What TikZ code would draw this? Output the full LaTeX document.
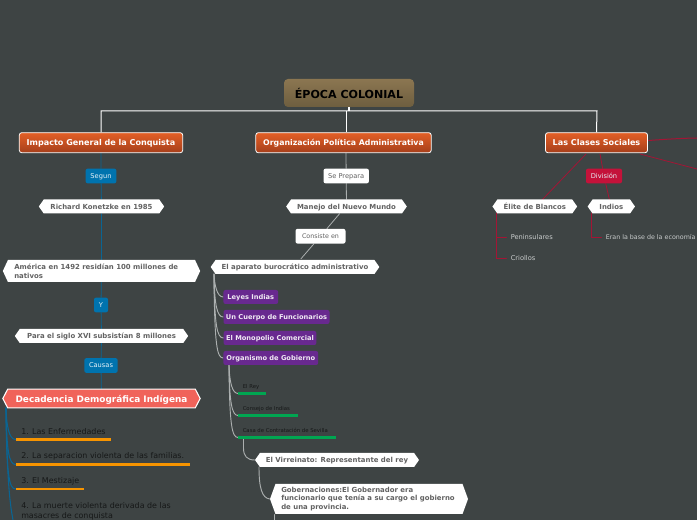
\documentclass[tikz,border=0pt]{standalone}
\usepackage{fontspec}
\setmainfont{DejaVu Sans}
\usetikzlibrary{shapes.symbols,backgrounds,calc}
\definecolor{bgc}{HTML}{3E4444}
\definecolor{hextxt}{HTML}{626262}
\definecolor{bluel}{HTML}{0A6593}
\definecolor{blueb}{HTML}{0073AE}
\definecolor{redl}{HTML}{A31535}
\definecolor{redb}{HTML}{C4123A}
\definecolor{purp}{HTML}{68298F}
\definecolor{grn}{HTML}{00A651}
\definecolor{org}{HTML}{F79400}
\definecolor{salm}{HTML}{F0635A}
\definecolor{sub}{HTML}{C9CCCC}
\definecolor{darkt}{HTML}{161818}
\definecolor{grayl}{HTML}{ABAFAF}
\definecolor{topA}{HTML}{E35F26}
\definecolor{topB}{HTML}{A63F1B}
\definecolor{rootA}{HTML}{8B7651}
\definecolor{rootB}{HTML}{6E5E3F}
\tikzset{
 x=0.75pt,y=-0.75pt,
 rootbox/.style={rectangle,rounded corners=3pt,top color=rootA,bottom color=rootB,minimum width=97.5pt,minimum height=21pt,inner sep=0pt,text depth=0pt,font=\bfseries\fontsize{8.3}{9}\selectfont,text=black},
 topic/.style={rectangle,rounded corners=1.8pt,draw=white,line width=0.6pt,top color=topA,bottom color=topB,minimum height=15pt,inner sep=0pt,text depth=0pt,font=\bfseries\fontsize{6.05}{7.5}\selectfont,text=white},
 tag/.style={rectangle,rounded corners=1.5pt,fill=blueb,minimum height=11pt,inner sep=0pt,text depth=0pt,font=\fontsize{5}{6}\selectfont,text=white!90!blueb},
 wtag/.style={tag,fill=white,text=hextxt},
 rtag/.style={tag,fill=redb},
 hexa/.style={signal,signal to=west and east,signal pointer angle=110,fill=white,inner sep=0pt,minimum height=10.5pt,text depth=0pt,font=\bfseries\fontsize{5.2}{6.8}\selectfont,text=hextxt},
 purpbox/.style={rectangle,rounded corners=1.5pt,fill=purp,minimum height=10.5pt,inner sep=0pt,text depth=0pt,font=\bfseries\fontsize{5}{6}\selectfont,text=white!90!purp},
 plain/.style={inner sep=0pt,anchor=west,text depth=0pt,font=\fontsize{5}{6}\selectfont,text=sub},
 small/.style={inner sep=0pt,anchor=west,text depth=0pt,font=\fontsize{4}{5}\selectfont,text=darkt},
 item/.style={inner sep=0pt,anchor=west,align=left,font=\fontsize{5.95}{7.6}\selectfont,text=darkt},
 ubar/.style={rectangle,inner sep=0pt,minimum height=2pt,anchor=west},
 con/.style={line width=0.6pt,line cap=round},
}
\begin{document}
\begin{tikzpicture}
\useasboundingbox (0,0) rectangle (697,520);
\clip (0,0) rectangle (697,520);

% root and topics
\node[rootbox] (root) at (349,93) {ÉPOCA COLONIAL};
\coordinate (bus) at (349,111);
\node[topic,minimum width=122.5pt] (t1) at (101,142.7) {Impacto General de la Conquista};
\node[topic,minimum width=131.5pt,font=\bfseries\fontsize{5.85}{7.5}\selectfont] (t2) at (343.5,142.7) {Organización Política Administrativa};
\node[topic,minimum width=76.5pt] (t3) at (596.5,142.7) {Las Clases Sociales};
\coordinate (t2top) at (346,132.5);
\coordinate (t2bot) at (346,153);

% left column
\node[tag,minimum width=23pt] (segun) at (101,176) {Segun};
\node[hexa,minimum width=94pt] (richard) at (101.5,206.5) {Richard Konetzke en 1985};
\node[signal,signal to=west and east,signal pointer angle=130,fill=white,inner sep=0pt,minimum width=148pt,minimum height=16.5pt] (america) at (101.5,271) {};
\node[anchor=west,inner sep=0pt,align=left,font=\bfseries\fontsize{5.2}{6.8}\selectfont,text=hextxt] (americat) at (14,271) {América en 1492 residían 100 millones de\\nativos};
\node[tag,minimum width=10.5pt] (y) at (101,305) {Y};
\node[hexa,minimum width=130pt] (para) at (101.5,336) {Para el siglo XVI subsistían 8 millones};
\node[tag,minimum width=25pt] (causas) at (101,365.5) {Causas};
\node[signal,signal to=west and east,signal pointer angle=125,fill=salm,draw=white,line width=0.8pt,inner sep=0pt,minimum width=148pt,minimum height=14pt,text depth=0pt,font=\bfseries\fontsize{6.7}{8}\selectfont,text=white] (deca) at (101.5,398.5) {Decadencia Demográfica Indígena};
\coordinate (decaroot) at (6,408);

\node[item] (i1) at (21,431.5) {1. Las Enfermedades};
\node[ubar,fill=org,minimum width=71.2pt] (u1) at (15.5,439.5) {};
\node[item] (i2) at (21,456) {2. La separacion violenta de las familias.};
\node[ubar,fill=org,minimum width=130.5pt] (u2) at (15.5,464.5) {};
\node[item] (i3) at (21,481) {3. El Mestizaje};
\node[ubar,fill=org,minimum width=51.5pt] (u3) at (15.5,489) {};
\node[item] (i4) at (21,511) {4. La muerte violenta derivada de las\\masacres de conquista};
\coordinate (leftend) at (13,520);

% centre column
\node[wtag,minimum width=34pt] (prep) at (346.2,176) {Se Prepara};
\node[hexa,minimum width=90.5pt] (manejo) at (346.5,206.5) {Manejo del Nuevo Mundo};
\node[wtag,minimum width=37.5pt,font=\fontsize{4.75}{6}\selectfont] (cons) at (320.5,236.2) {Consiste en};
\node[hexa,minimum width=126.5pt] (aparato) at (295,267) {El aparato burocrático administrativo};
\coordinate (aproot) at (214,274);
\node[purpbox,minimum width=41pt] (p1) at (250.8,297) {Leyes Indias};
\node[purpbox,minimum width=79.5pt] (p2) at (276.5,317) {Un Cuerpo de Funcionarios};
\node[purpbox,minimum width=69.5pt] (p3) at (270,338) {El Monopolio Comercial};
\node[purpbox,minimum width=71pt] (p4) at (270.8,358) {Organismo de Gobierno};
\coordinate (orgroot) at (229,365);

\node[small] (s1) at (242.5,386) {El Rey};
\node[ubar,fill=grn,minimum width=20.5pt,minimum height=1.9pt] (g1) at (238,393.5) {};
\node[small] (s2) at (242.5,408) {Consejo de Indias};
\node[ubar,fill=grn,minimum width=44.6pt,minimum height=1.9pt] (g2) at (238,415.5) {};
\node[small] (s3) at (242.5,430) {Casa de Contratación de Sevilla};
\node[ubar,fill=grn,minimum width=73.5pt,minimum height=1.9pt] (g3) at (238,437.5) {};
\coordinate (casaroot) at (243.5,438);

\node[hexa,minimum width=123pt] (virr) at (337,460) {El Virreinato: Representante del rey};
\coordinate (virrroot) at (259,467);
\node[signal,signal to=west and east,signal pointer angle=140,fill=white,inner sep=0pt,minimum width=148.5pt,minimum height=22.5pt] (gob) at (369,499) {};
\node[anchor=west,inner sep=0pt,align=left,font=\bfseries\fontsize{5.2}{6.5}\selectfont,text=hextxt] (gobt) at (281,499) {Gobernaciones:El Gobernador era\\funcionario que tenía a su cargo el gobierno\\de una provincia.};
\coordinate (gobroot) at (274,514.5);
\coordinate (gobend) at (274,520);

% right column
\node[rtag,minimum width=27pt] (div) at (604,176) {División};
\node[hexa,minimum width=63.5pt] (elite) at (534.8,206.5) {Élite de Blancos};
\node[hexa,minimum width=35.5pt] (indios) at (611.3,206.5) {Indios};
\node[plain] (pen) at (510.5,237) {Peninsulares};
\node[plain] (cri) at (510.5,258) {Criollos};
\node[plain,font=\fontsize{4.75}{6}\selectfont] (eran) at (605.5,237) {Eran la base de la economía};
\coordinate (eliteroot) at (496.5,213);
\coordinate (indroot) at (591,213);
\coordinate (off1) at (697,138);
\coordinate (off2) at (697,169);
\coordinate (t3a) at (586,154);
\coordinate (t3b) at (600,154);
\coordinate (t3c) at (640,154);
\coordinate (t3d) at (648.5,140.5);
\coordinate (elitetop) at (542,200);
\coordinate (indtop) at (609.5,200);

\begin{pgfonlayer}{background}
\fill[bgc] (0,0) rectangle (697,520);
% main bus
\draw[white,line width=0.75pt] (t1.north) -- (101,111) -- (597,111) -- (t3.north);
\draw[white,line width=0.75pt] (t2top) -- (346,111);
\draw[white,line width=1.5pt] (root.south) -- (bus);
% blue chain
\draw[con,bluel] (t1.south) -- (segun) -- (richard) -- (america) -- (y) -- (para) -- (causas) -- (deca);
\foreach \u/\yy in {u1/439.5,u2/464.5,u3/489}{
  \draw[con,bluel,line width=0.8pt] (decaroot) .. controls (6.5,\yy-14) and (9,\yy) .. (\u.west);
}
\draw[con,bluel,line width=0.8pt] (decaroot) .. controls (7,470) and (9,500) .. (leftend);
% centre
\draw[con,grayl] (t2bot) -- (prep) -- (manejo);
\draw[con,grayl] ($(manejo.south)+(-7,0)$) -- (cons) -- ($(aparato.north)+(6,-1)$);
\foreach \p/\yy in {p1/297,p2/317,p3/338,p4/358}{
  \draw[con,grayl,line width=0.7pt] (aproot) .. controls (214.5,\yy-12) and (217,\yy) .. (\p.west);
}
\foreach \g/\yy in {g1/393.5,g2/415.5,g3/437.5}{
  \draw[con,grayl,line width=0.7pt] (orgroot) .. controls (229.5,\yy-12) and (232,\yy) .. (\g.west);
}
\draw[con,grayl,line width=0.7pt] (casaroot) -- (243.5,448) .. controls (243.5,456) and (247,460) .. (virr.west);
\draw[con,grayl,line width=0.7pt] (virrroot) .. controls (259,488) and (262,498) .. (gob.west);
\draw[con,grayl,line width=0.7pt] (gobroot) -- (gobend);
% right
\draw[con,redl] (t3a) -- (elitetop);
\draw[con,redl] (t3b) -- (div) -- (indtop);
\draw[con,redl,line width=0.75pt] (t3d) .. controls (662,139.5) and (680,138.3) .. (off1);
\draw[con,redl] (t3c) -- (off2);
\draw[con,redl,line width=0.7pt] (eliteroot) -- (496.5,258) -- ($(cri.west)+(-4,0)$);
\draw[con,redl,line width=0.7pt] (496.5,237) -- ($(pen.west)+(-4,0)$);
\draw[con,redl,line width=0.7pt] (indroot) -- (591,237) -- ($(eran.west)+(-4,0)$);
\end{pgfonlayer}
\end{tikzpicture}
\end{document}
